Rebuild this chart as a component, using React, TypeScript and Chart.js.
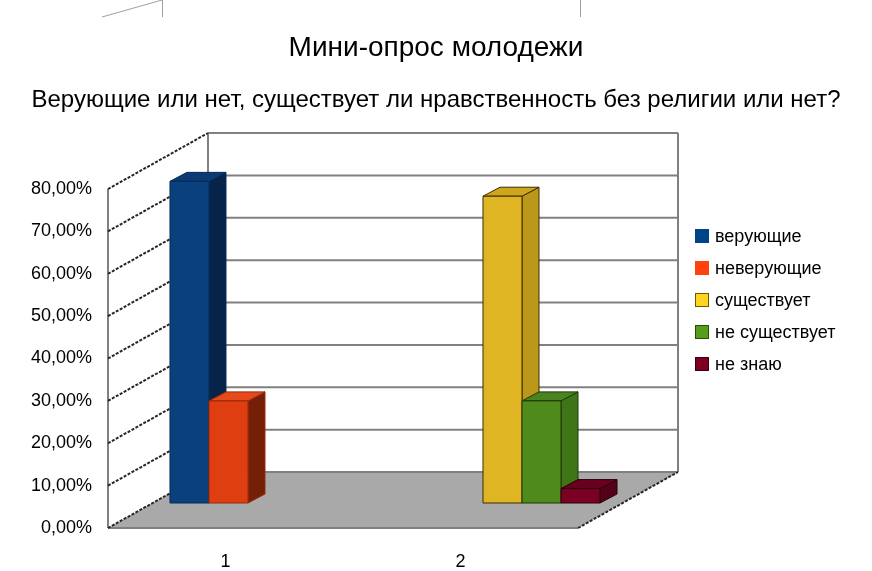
import React, { useEffect, useRef } from "react";
import { Chart, registerables } from "chart.js";

Chart.register(...registerables);

// ---- data ----
const categories = ["1", "2"];
const seriesNames = ["верующие", "неверующие", "существует", "не существует", "не знаю"];
const believers = [75.9, null];
const nonBelievers = [24.1, null];
const exists = [null, 72.4];
const notExists = [null, 24.1];
const dontKnow = [null, 3.4];
const yMin = 0;
const yMax = 80;
const yStep = 10;
const titleText = "Мини-опрос молодежи";
const subtitleText = "Верующие или нет, существует ли нравственность без религии или нет?";

// ---- styles ----
const legendColors = ["#004586", "#ff420e", "#ffd320", "#579d1c", "#7e0021"];
const legendBorders = ["#004586", "#ff420e", "#6b5a00", "#2b4d0c", "#3a0010"];
const frontColors = ["#0a407e", "#de3e10", "#e0b523", "#4f8a1d", "#7a0024"];
const sideColors = ["#06244a", "#742008", "#bb971a", "#3f7516", "#55001a"];
const topColors = ["#0b3b72", "#e54a1c", "#cfa51e", "#4a8420", "#6a001f"];
const edgeColors = ["#062c58", "#9a2a08", "#3a2c00", "#1e3806", "#2a0008"];

const FONT = "'Liberation Sans', Arial, sans-serif";
const WALL_DX = 100;
const WALL_DY = 56;
const BAR_OFF_X = 42;
const BAR_OFF_Y = 25;
const BAR_DX = 17;
const BAR_DY = 9;
const LEGEND_GAP = 117;
const LEGEND_TOP = 236;
const LEGEND_ROW = 32;
const LEGEND_BOX = 14;
const LEGEND_FONT = 18;

const threeD = {
  id: "threeD",
  beforeDatasetsDraw(chart: any) {
    const ctx = chart.ctx as CanvasRenderingContext2D;
    const { left, right, top, bottom } = chart.chartArea;
    const ys = chart.scales.y;
    ctx.save();

    // floor
    ctx.beginPath();
    ctx.moveTo(left, bottom);
    ctx.lineTo(left + WALL_DX, bottom - WALL_DY);
    ctx.lineTo(right + WALL_DX, bottom - WALL_DY);
    ctx.lineTo(right, bottom);
    ctx.closePath();
    ctx.fillStyle = "#a9a9a9";
    ctx.fill();

    // back wall grid lines
    ctx.strokeStyle = "#808080";
    ctx.lineWidth = 2;
    ys.ticks.forEach((t: any) => {
      const y = ys.getPixelForValue(t.value) - WALL_DY;
      ctx.beginPath();
      ctx.moveTo(left + WALL_DX, y);
      ctx.lineTo(right + WALL_DX, y);
      ctx.stroke();
    });
    ctx.beginPath();
    ctx.moveTo(left + WALL_DX, top - WALL_DY);
    ctx.lineTo(left + WALL_DX, bottom - WALL_DY);
    ctx.moveTo(right + WALL_DX, top - WALL_DY);
    ctx.lineTo(right + WALL_DX, bottom - WALL_DY);
    ctx.moveTo(left, top);
    ctx.lineTo(left, bottom);
    ctx.moveTo(left, bottom);
    ctx.lineTo(right, bottom);
    ctx.stroke();

    // left wall diagonals + floor right edge
    ctx.strokeStyle = "#262626";
    ctx.lineWidth = 2;
    ctx.setLineDash([3, 1.5]);
    ys.ticks.forEach((t: any) => {
      const y = ys.getPixelForValue(t.value);
      ctx.beginPath();
      ctx.moveTo(left, y);
      ctx.lineTo(left + WALL_DX, y - WALL_DY);
      ctx.stroke();
    });
    ctx.beginPath();
    ctx.moveTo(right, bottom);
    ctx.lineTo(right + WALL_DX, bottom - WALL_DY);
    ctx.stroke();
    ctx.setLineDash([]);

    // bars
    chart.data.datasets.forEach((ds: any, i: number) => {
      const meta = chart.getDatasetMeta(i);
      meta.data.forEach((el: any, j: number) => {
        const v = ds.data[j];
        if (v == null) return;
        const p = el.getProps(["x", "y", "base", "width"], true);
        const x0 = p.x - p.width / 2 + BAR_OFF_X;
        const x1 = p.x + p.width / 2 + BAR_OFF_X;
        const yt = p.y - BAR_OFF_Y;
        const yb = p.base - BAR_OFF_Y;
        ctx.lineWidth = 1;
        ctx.lineJoin = "round";
        ctx.strokeStyle = edgeColors[i];
        ctx.beginPath();
        ctx.moveTo(x1, yt);
        ctx.lineTo(x1 + BAR_DX, yt - BAR_DY);
        ctx.lineTo(x1 + BAR_DX, yb - BAR_DY);
        ctx.lineTo(x1, yb);
        ctx.closePath();
        ctx.fillStyle = sideColors[i];
        ctx.fill();
        ctx.stroke();
        ctx.beginPath();
        ctx.moveTo(x0, yt);
        ctx.lineTo(x0 + BAR_DX, yt - BAR_DY);
        ctx.lineTo(x1 + BAR_DX, yt - BAR_DY);
        ctx.lineTo(x1, yt);
        ctx.closePath();
        ctx.fillStyle = topColors[i];
        ctx.fill();
        ctx.stroke();
        ctx.beginPath();
        ctx.rect(x0, yt, x1 - x0, yb - yt);
        ctx.fillStyle = frontColors[i];
        ctx.fill();
        ctx.stroke();
      });
    });

    ctx.restore();
    return false;
  },
  afterDraw(chart: any) {
    const ctx = chart.ctx as CanvasRenderingContext2D;
    const { right } = chart.chartArea;
    ctx.save();
    // legend
    const lx = right + LEGEND_GAP;
    ctx.font = `${LEGEND_FONT}px ${FONT}`;
    ctx.textBaseline = "middle";
    ctx.textAlign = "left";
    chart.data.datasets.forEach((ds: any, i: number) => {
      const cy = LEGEND_TOP + i * LEGEND_ROW;
      ctx.fillStyle = ds.backgroundColor;
      ctx.fillRect(lx, cy - LEGEND_BOX / 2, LEGEND_BOX, LEGEND_BOX);
      if (ds.borderWidth > 0) {
        ctx.lineWidth = ds.borderWidth;
        ctx.strokeStyle = ds.borderColor;
        ctx.strokeRect(lx + 0.5, cy - LEGEND_BOX / 2 + 0.5, LEGEND_BOX - 1, LEGEND_BOX - 1);
      }
      ctx.fillStyle = "#000";
      ctx.fillText(ds.label, lx + LEGEND_BOX + 6, cy + 1);
    });
    // fragment of a neighbouring frame at the very top of the picture
    ctx.strokeStyle = "#a0a0a0";
    ctx.lineWidth = 1;
    ctx.beginPath();
    ctx.moveTo(102, 17);
    ctx.lineTo(162, 0);
    ctx.moveTo(162.5, 0);
    ctx.lineTo(162.5, 17);
    ctx.moveTo(580.5, 0);
    ctx.lineTo(580.5, 17);
    ctx.stroke();
    ctx.restore();
  },
};

const seriesData = [believers, nonBelievers, exists, notExists, dontKnow];

export default function App() {
  const ref = useRef<HTMLCanvasElement>(null);
  useEffect(() => {
    if (!ref.current) return;
    Chart.defaults.font.family = FONT;
    Chart.defaults.color = "#000";
    const chart = new Chart(ref.current, {
      type: "bar",
      data: {
        labels: categories,
        datasets: seriesData.map((d, i) => ({
          label: seriesNames[i],
          data: d,
          backgroundColor: legendColors[i],
          borderColor: legendBorders[i],
          borderWidth: i >= 2 ? 1 : 0,
          categoryPercentage: 0.83,
          barPercentage: 1,
        })),
      },
      options: {
        animation: false,
        responsive: true,
        maintainAspectRatio: false,
        layout: { padding: 0 },
        plugins: {
          title: {
            display: true,
            text: titleText,
            color: "#000",
            font: { size: 28, weight: "normal", family: FONT },
            padding: { top: 31.2, bottom: 0 },
          },
          subtitle: {
            display: true,
            text: subtitleText,
            color: "#000",
            font: { size: 24, weight: "normal", family: FONT },
            padding: { top: 20.8, bottom: 74.6 },
          },
          legend: { display: false },
          tooltip: { enabled: false },
        },
        scales: {
          x: {
            grid: { display: false, drawTicks: false },
            border: { display: false },
            ticks: { font: { size: 18, family: FONT }, color: "#000", padding: 23 },
            afterFit: (s: any) => {
              s.height = 43;
            },
          },
          y: {
            min: yMin,
            max: yMax,
            grid: { display: false, drawTicks: false },
            border: { display: false },
            ticks: {
              stepSize: yStep,
              font: { size: 18, family: FONT },
              color: "#000",
              padding: 16,
              callback: (v: any) => Number(v).toFixed(2).replace(".", ",") + "%",
            },
            afterFit: (s: any) => {
              s.width = 108;
            },
          },
          yRight: {
            position: "right",
            display: true,
            grid: { display: false, drawTicks: false },
            border: { display: false },
            ticks: { display: false },
            afterFit: (s: any) => {
              s.width = 294;
            },
          },
        },
      },
      plugins: [threeD],
    });
    return () => chart.destroy();
  }, []);
  return (
    <div style={{ position: "fixed", left: 0, top: 0, width: 872, height: 571, background: "#fff" }}>
      <canvas ref={ref} />
    </div>
  );
}
